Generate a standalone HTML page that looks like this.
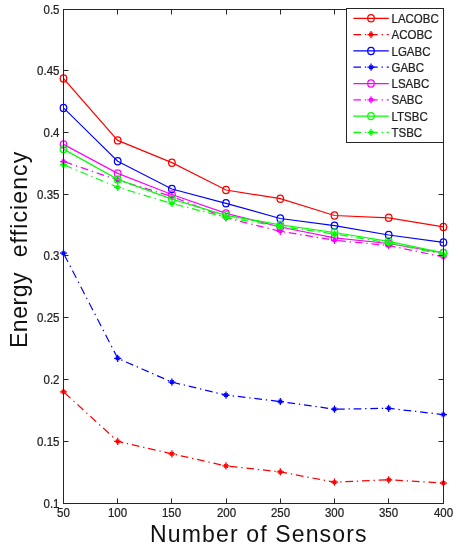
<!DOCTYPE html><html><head><meta charset="utf-8"><style>html,body{margin:0;padding:0;background:#fff;overflow:hidden;}svg{display:block;}text{font-family:"Liberation Sans",Arial,sans-serif;}</style></head><body>
<svg width="458" height="550" viewBox="0 0 458 550">
<rect width="458" height="550" fill="#fff"/>
<polyline transform="scale(0.9,1)" points="70.556,78.50 130.778,140.40 191.000,162.70 251.111,190.00 311.444,198.70 371.667,215.50 431.889,217.80 492.667,226.90" fill="none" stroke="#ff0000" stroke-width="1.25"/>
<ellipse cx="63.50" cy="78.50" rx="3.3" ry="3.6" fill="none" stroke="#ff0000" stroke-width="1.25"/>
<ellipse cx="117.70" cy="140.40" rx="3.3" ry="3.6" fill="none" stroke="#ff0000" stroke-width="1.25"/>
<ellipse cx="171.90" cy="162.70" rx="3.3" ry="3.6" fill="none" stroke="#ff0000" stroke-width="1.25"/>
<ellipse cx="226.00" cy="190.00" rx="3.3" ry="3.6" fill="none" stroke="#ff0000" stroke-width="1.25"/>
<ellipse cx="280.30" cy="198.70" rx="3.3" ry="3.6" fill="none" stroke="#ff0000" stroke-width="1.25"/>
<ellipse cx="334.50" cy="215.50" rx="3.3" ry="3.6" fill="none" stroke="#ff0000" stroke-width="1.25"/>
<ellipse cx="388.70" cy="217.80" rx="3.3" ry="3.6" fill="none" stroke="#ff0000" stroke-width="1.25"/>
<ellipse cx="443.40" cy="226.90" rx="3.3" ry="3.6" fill="none" stroke="#ff0000" stroke-width="1.25"/>
<polyline transform="scale(0.9,1)" points="70.556,391.80 130.778,441.40 191.000,453.80 251.111,465.90 311.444,471.90 371.667,482.20 431.889,479.80 492.667,483.00" fill="none" stroke="#ff0000" stroke-width="1.25" stroke-dasharray="8.5,4.25,1.5,4.25" stroke-dashoffset="-1.6"/>
<path d="M59.90 391.80H67.10M63.50 388.20V395.40M61.70 390.00L65.30 393.60M61.70 393.60L65.30 390.00" stroke="#ff0000" stroke-width="1.25" fill="none"/>
<path d="M114.10 441.40H121.30M117.70 437.80V445.00M115.90 439.60L119.50 443.20M115.90 443.20L119.50 439.60" stroke="#ff0000" stroke-width="1.25" fill="none"/>
<path d="M168.30 453.80H175.50M171.90 450.20V457.40M170.10 452.00L173.70 455.60M170.10 455.60L173.70 452.00" stroke="#ff0000" stroke-width="1.25" fill="none"/>
<path d="M222.40 465.90H229.60M226.00 462.30V469.50M224.20 464.10L227.80 467.70M224.20 467.70L227.80 464.10" stroke="#ff0000" stroke-width="1.25" fill="none"/>
<path d="M276.70 471.90H283.90M280.30 468.30V475.50M278.50 470.10L282.10 473.70M278.50 473.70L282.10 470.10" stroke="#ff0000" stroke-width="1.25" fill="none"/>
<path d="M330.90 482.20H338.10M334.50 478.60V485.80M332.70 480.40L336.30 484.00M332.70 484.00L336.30 480.40" stroke="#ff0000" stroke-width="1.25" fill="none"/>
<path d="M385.10 479.80H392.30M388.70 476.20V483.40M386.90 478.00L390.50 481.60M386.90 481.60L390.50 478.00" stroke="#ff0000" stroke-width="1.25" fill="none"/>
<path d="M439.80 483.00H447.00M443.40 479.40V486.60M441.60 481.20L445.20 484.80M441.60 484.80L445.20 481.20" stroke="#ff0000" stroke-width="1.25" fill="none"/>
<polyline transform="scale(0.9,1)" points="70.556,107.90 130.778,161.30 191.000,189.00 251.111,203.30 311.444,218.50 371.667,225.60 431.889,235.00 492.667,242.40" fill="none" stroke="#0000ff" stroke-width="1.25"/>
<ellipse cx="63.50" cy="107.90" rx="3.3" ry="3.6" fill="none" stroke="#0000ff" stroke-width="1.25"/>
<ellipse cx="117.70" cy="161.30" rx="3.3" ry="3.6" fill="none" stroke="#0000ff" stroke-width="1.25"/>
<ellipse cx="171.90" cy="189.00" rx="3.3" ry="3.6" fill="none" stroke="#0000ff" stroke-width="1.25"/>
<ellipse cx="226.00" cy="203.30" rx="3.3" ry="3.6" fill="none" stroke="#0000ff" stroke-width="1.25"/>
<ellipse cx="280.30" cy="218.50" rx="3.3" ry="3.6" fill="none" stroke="#0000ff" stroke-width="1.25"/>
<ellipse cx="334.50" cy="225.60" rx="3.3" ry="3.6" fill="none" stroke="#0000ff" stroke-width="1.25"/>
<ellipse cx="388.70" cy="235.00" rx="3.3" ry="3.6" fill="none" stroke="#0000ff" stroke-width="1.25"/>
<ellipse cx="443.40" cy="242.40" rx="3.3" ry="3.6" fill="none" stroke="#0000ff" stroke-width="1.25"/>
<polyline transform="scale(0.9,1)" points="70.556,253.20 130.778,358.30 191.000,382.10 251.111,395.10 311.444,401.50 371.667,409.20 431.889,408.30 492.667,414.60" fill="none" stroke="#0000ff" stroke-width="1.25" stroke-dasharray="8.5,4.25,1.5,4.25" stroke-dashoffset="-1.6"/>
<path d="M59.90 253.20H67.10M63.50 249.60V256.80M61.70 251.40L65.30 255.00M61.70 255.00L65.30 251.40" stroke="#0000ff" stroke-width="1.25" fill="none"/>
<path d="M114.10 358.30H121.30M117.70 354.70V361.90M115.90 356.50L119.50 360.10M115.90 360.10L119.50 356.50" stroke="#0000ff" stroke-width="1.25" fill="none"/>
<path d="M168.30 382.10H175.50M171.90 378.50V385.70M170.10 380.30L173.70 383.90M170.10 383.90L173.70 380.30" stroke="#0000ff" stroke-width="1.25" fill="none"/>
<path d="M222.40 395.10H229.60M226.00 391.50V398.70M224.20 393.30L227.80 396.90M224.20 396.90L227.80 393.30" stroke="#0000ff" stroke-width="1.25" fill="none"/>
<path d="M276.70 401.50H283.90M280.30 397.90V405.10M278.50 399.70L282.10 403.30M278.50 403.30L282.10 399.70" stroke="#0000ff" stroke-width="1.25" fill="none"/>
<path d="M330.90 409.20H338.10M334.50 405.60V412.80M332.70 407.40L336.30 411.00M332.70 411.00L336.30 407.40" stroke="#0000ff" stroke-width="1.25" fill="none"/>
<path d="M385.10 408.30H392.30M388.70 404.70V411.90M386.90 406.50L390.50 410.10M386.90 410.10L390.50 406.50" stroke="#0000ff" stroke-width="1.25" fill="none"/>
<path d="M439.80 414.60H447.00M443.40 411.00V418.20M441.60 412.80L445.20 416.40M441.60 416.40L445.20 412.80" stroke="#0000ff" stroke-width="1.25" fill="none"/>
<polyline transform="scale(0.9,1)" points="70.556,144.40 130.778,173.40 191.000,194.50 251.111,213.40 311.444,227.00 371.667,237.80 431.889,243.50 492.667,253.00" fill="none" stroke="#ff00ff" stroke-width="1.25"/>
<ellipse cx="63.50" cy="144.40" rx="3.3" ry="3.6" fill="none" stroke="#ff00ff" stroke-width="1.25"/>
<ellipse cx="117.70" cy="173.40" rx="3.3" ry="3.6" fill="none" stroke="#ff00ff" stroke-width="1.25"/>
<ellipse cx="171.90" cy="194.50" rx="3.3" ry="3.6" fill="none" stroke="#ff00ff" stroke-width="1.25"/>
<ellipse cx="226.00" cy="213.40" rx="3.3" ry="3.6" fill="none" stroke="#ff00ff" stroke-width="1.25"/>
<ellipse cx="280.30" cy="227.00" rx="3.3" ry="3.6" fill="none" stroke="#ff00ff" stroke-width="1.25"/>
<ellipse cx="334.50" cy="237.80" rx="3.3" ry="3.6" fill="none" stroke="#ff00ff" stroke-width="1.25"/>
<ellipse cx="388.70" cy="243.50" rx="3.3" ry="3.6" fill="none" stroke="#ff00ff" stroke-width="1.25"/>
<ellipse cx="443.40" cy="253.00" rx="3.3" ry="3.6" fill="none" stroke="#ff00ff" stroke-width="1.25"/>
<polyline transform="scale(0.9,1)" points="70.556,161.50 130.778,180.00 191.000,196.50 251.111,217.80 311.444,231.30 371.667,240.30 431.889,245.50 492.667,256.90" fill="none" stroke="#ff00ff" stroke-width="1.25" stroke-dasharray="8.5,4.25,1.5,4.25" stroke-dashoffset="-1.6"/>
<path d="M59.90 161.50H67.10M63.50 157.90V165.10M61.70 159.70L65.30 163.30M61.70 163.30L65.30 159.70" stroke="#ff00ff" stroke-width="1.25" fill="none"/>
<path d="M114.10 180.00H121.30M117.70 176.40V183.60M115.90 178.20L119.50 181.80M115.90 181.80L119.50 178.20" stroke="#ff00ff" stroke-width="1.25" fill="none"/>
<path d="M168.30 196.50H175.50M171.90 192.90V200.10M170.10 194.70L173.70 198.30M170.10 198.30L173.70 194.70" stroke="#ff00ff" stroke-width="1.25" fill="none"/>
<path d="M222.40 217.80H229.60M226.00 214.20V221.40M224.20 216.00L227.80 219.60M224.20 219.60L227.80 216.00" stroke="#ff00ff" stroke-width="1.25" fill="none"/>
<path d="M276.70 231.30H283.90M280.30 227.70V234.90M278.50 229.50L282.10 233.10M278.50 233.10L282.10 229.50" stroke="#ff00ff" stroke-width="1.25" fill="none"/>
<path d="M330.90 240.30H338.10M334.50 236.70V243.90M332.70 238.50L336.30 242.10M332.70 242.10L336.30 238.50" stroke="#ff00ff" stroke-width="1.25" fill="none"/>
<path d="M385.10 245.50H392.30M388.70 241.90V249.10M386.90 243.70L390.50 247.30M386.90 247.30L390.50 243.70" stroke="#ff00ff" stroke-width="1.25" fill="none"/>
<path d="M439.80 256.90H447.00M443.40 253.30V260.50M441.60 255.10L445.20 258.70M441.60 258.70L445.20 255.10" stroke="#ff00ff" stroke-width="1.25" fill="none"/>
<polyline transform="scale(0.9,1)" points="70.556,149.10 130.778,179.40 191.000,199.20 251.111,215.30 311.444,224.80 371.667,232.50 431.889,241.30 492.667,252.90" fill="none" stroke="#00ff00" stroke-width="1.25"/>
<ellipse cx="63.50" cy="149.10" rx="3.3" ry="3.6" fill="none" stroke="#00ff00" stroke-width="1.25"/>
<ellipse cx="117.70" cy="179.40" rx="3.3" ry="3.6" fill="none" stroke="#00ff00" stroke-width="1.25"/>
<ellipse cx="171.90" cy="199.20" rx="3.3" ry="3.6" fill="none" stroke="#00ff00" stroke-width="1.25"/>
<ellipse cx="226.00" cy="215.30" rx="3.3" ry="3.6" fill="none" stroke="#00ff00" stroke-width="1.25"/>
<ellipse cx="280.30" cy="224.80" rx="3.3" ry="3.6" fill="none" stroke="#00ff00" stroke-width="1.25"/>
<ellipse cx="334.50" cy="232.50" rx="3.3" ry="3.6" fill="none" stroke="#00ff00" stroke-width="1.25"/>
<ellipse cx="388.70" cy="241.30" rx="3.3" ry="3.6" fill="none" stroke="#00ff00" stroke-width="1.25"/>
<ellipse cx="443.40" cy="252.90" rx="3.3" ry="3.6" fill="none" stroke="#00ff00" stroke-width="1.25"/>
<polyline transform="scale(0.9,1)" points="70.556,164.70 130.778,187.30 191.000,203.50 251.111,217.30 311.444,226.50 371.667,234.00 431.889,243.00 492.667,254.60" fill="none" stroke="#00ff00" stroke-width="1.25" stroke-dasharray="8.5,4.25,1.5,4.25" stroke-dashoffset="-1.6"/>
<path d="M59.90 164.70H67.10M63.50 161.10V168.30M61.70 162.90L65.30 166.50M61.70 166.50L65.30 162.90" stroke="#00ff00" stroke-width="1.25" fill="none"/>
<path d="M114.10 187.30H121.30M117.70 183.70V190.90M115.90 185.50L119.50 189.10M115.90 189.10L119.50 185.50" stroke="#00ff00" stroke-width="1.25" fill="none"/>
<path d="M168.30 203.50H175.50M171.90 199.90V207.10M170.10 201.70L173.70 205.30M170.10 205.30L173.70 201.70" stroke="#00ff00" stroke-width="1.25" fill="none"/>
<path d="M222.40 217.30H229.60M226.00 213.70V220.90M224.20 215.50L227.80 219.10M224.20 219.10L227.80 215.50" stroke="#00ff00" stroke-width="1.25" fill="none"/>
<path d="M276.70 226.50H283.90M280.30 222.90V230.10M278.50 224.70L282.10 228.30M278.50 228.30L282.10 224.70" stroke="#00ff00" stroke-width="1.25" fill="none"/>
<path d="M330.90 234.00H338.10M334.50 230.40V237.60M332.70 232.20L336.30 235.80M332.70 235.80L336.30 232.20" stroke="#00ff00" stroke-width="1.25" fill="none"/>
<path d="M385.10 243.00H392.30M388.70 239.40V246.60M386.90 241.20L390.50 244.80M386.90 244.80L390.50 241.20" stroke="#00ff00" stroke-width="1.25" fill="none"/>
<path d="M439.80 254.60H447.00M443.40 251.00V258.20M441.60 252.80L445.20 256.40M441.60 256.40L445.20 252.80" stroke="#00ff00" stroke-width="1.25" fill="none"/>
<rect x="63.5" y="9.5" width="380.0" height="494.0" fill="none" stroke="#262626" stroke-width="1"/>
<path d="M63.50 503.5V498.5M63.50 9.5V14.5M117.50 503.5V498.5M117.50 9.5V14.5M171.50 503.5V498.5M171.50 9.5V14.5M226.50 503.5V498.5M226.50 9.5V14.5M280.50 503.5V498.5M280.50 9.5V14.5M334.50 503.5V498.5M334.50 9.5V14.5M388.50 503.5V498.5M388.50 9.5V14.5M443.50 503.5V498.5M443.50 9.5V14.5M63.5 9.50H68.5M443.5 9.50H438.5M63.5 70.50H68.5M443.5 70.50H438.5M63.5 132.50H68.5M443.5 132.50H438.5M63.5 194.50H68.5M443.5 194.50H438.5M63.5 255.50H68.5M443.5 255.50H438.5M63.5 317.50H68.5M443.5 317.50H438.5M63.5 379.50H68.5M443.5 379.50H438.5M63.5 441.50H68.5M443.5 441.50H438.5M63.5 503.50H68.5M443.5 503.50H438.5" stroke="#262626" stroke-width="1" fill="none"/>
<text transform="translate(59.5,14.10) scale(0.885,1)" font-size="13" text-anchor="end" fill="#222" stroke="#222" stroke-width="0.25">0.5</text>
<text transform="translate(59.5,75.10) scale(0.885,1)" font-size="13" text-anchor="end" fill="#222" stroke="#222" stroke-width="0.25">0.45</text>
<text transform="translate(59.5,137.10) scale(0.885,1)" font-size="13" text-anchor="end" fill="#222" stroke="#222" stroke-width="0.25">0.4</text>
<text transform="translate(59.5,199.10) scale(0.885,1)" font-size="13" text-anchor="end" fill="#222" stroke="#222" stroke-width="0.25">0.35</text>
<text transform="translate(59.5,260.10) scale(0.885,1)" font-size="13" text-anchor="end" fill="#222" stroke="#222" stroke-width="0.25">0.3</text>
<text transform="translate(59.5,322.10) scale(0.885,1)" font-size="13" text-anchor="end" fill="#222" stroke="#222" stroke-width="0.25">0.25</text>
<text transform="translate(59.5,384.10) scale(0.885,1)" font-size="13" text-anchor="end" fill="#222" stroke="#222" stroke-width="0.25">0.2</text>
<text transform="translate(59.5,446.10) scale(0.885,1)" font-size="13" text-anchor="end" fill="#222" stroke="#222" stroke-width="0.25">0.15</text>
<text transform="translate(59.5,508.10) scale(0.885,1)" font-size="13" text-anchor="end" fill="#222" stroke="#222" stroke-width="0.25">0.1</text>
<text transform="translate(63.50,516.5) scale(0.885,1)" font-size="13" text-anchor="middle" fill="#222" stroke="#222" stroke-width="0.25">50</text>
<text transform="translate(117.50,516.5) scale(0.885,1)" font-size="13" text-anchor="middle" fill="#222" stroke="#222" stroke-width="0.25">100</text>
<text transform="translate(171.50,516.5) scale(0.885,1)" font-size="13" text-anchor="middle" fill="#222" stroke="#222" stroke-width="0.25">150</text>
<text transform="translate(226.50,516.5) scale(0.885,1)" font-size="13" text-anchor="middle" fill="#222" stroke="#222" stroke-width="0.25">200</text>
<text transform="translate(280.50,516.5) scale(0.885,1)" font-size="13" text-anchor="middle" fill="#222" stroke="#222" stroke-width="0.25">250</text>
<text transform="translate(334.50,516.5) scale(0.885,1)" font-size="13" text-anchor="middle" fill="#222" stroke="#222" stroke-width="0.25">300</text>
<text transform="translate(388.50,516.5) scale(0.885,1)" font-size="13" text-anchor="middle" fill="#222" stroke="#222" stroke-width="0.25">350</text>
<text transform="translate(443.50,516.5) scale(0.885,1)" font-size="13" text-anchor="middle" fill="#222" stroke="#222" stroke-width="0.25">400</text>
<text transform="translate(150,541.5) scale(0.96,1)" font-size="24" textLength="225.52" lengthAdjust="spacing" fill="#111">Number of Sensors</text>
<text transform="translate(27,348) rotate(-90) scale(0.96,1)" font-size="24" textLength="78.65" lengthAdjust="spacing" fill="#111">Energy</text>
<text transform="translate(27,257.3) rotate(-90) scale(0.96,1)" font-size="24" textLength="109.90" lengthAdjust="spacing" fill="#111">efficiency</text>
<rect x="346.5" y="8.5" width="97.0" height="134.0" fill="#fff" stroke="#262626" stroke-width="1"/>
<line transform="scale(0.9,1)" x1="392.667" y1="18.30" x2="432.000" y2="18.30" stroke="#ff0000" stroke-width="1.25"/>
<ellipse cx="371.00" cy="18.30" rx="3.3" ry="3.6" fill="none" stroke="#ff0000" stroke-width="1.25"/>
<text transform="translate(391.5,22.90) scale(0.885,1)" font-size="13" fill="#222" stroke="#222" stroke-width="0.25">LACOBC</text>
<line transform="scale(0.9,1)" x1="392.667" y1="34.60" x2="432.000" y2="34.60" stroke="#ff0000" stroke-width="1.25" stroke-dasharray="8.5,4.25,1.5,4.25"/>
<path d="M367.40 34.60H374.60M371.00 31.00V38.20M369.20 32.80L372.80 36.40M369.20 36.40L372.80 32.80" stroke="#ff0000" stroke-width="1.25" fill="none"/>
<text transform="translate(391.5,39.20) scale(0.885,1)" font-size="13" fill="#222" stroke="#222" stroke-width="0.25">ACOBC</text>
<line transform="scale(0.9,1)" x1="392.667" y1="50.90" x2="432.000" y2="50.90" stroke="#0000ff" stroke-width="1.25"/>
<ellipse cx="371.00" cy="50.90" rx="3.3" ry="3.6" fill="none" stroke="#0000ff" stroke-width="1.25"/>
<text transform="translate(391.5,55.50) scale(0.885,1)" font-size="13" fill="#222" stroke="#222" stroke-width="0.25">LGABC</text>
<line transform="scale(0.9,1)" x1="392.667" y1="67.20" x2="432.000" y2="67.20" stroke="#0000ff" stroke-width="1.25" stroke-dasharray="8.5,4.25,1.5,4.25"/>
<path d="M367.40 67.20H374.60M371.00 63.60V70.80M369.20 65.40L372.80 69.00M369.20 69.00L372.80 65.40" stroke="#0000ff" stroke-width="1.25" fill="none"/>
<text transform="translate(391.5,71.80) scale(0.885,1)" font-size="13" fill="#222" stroke="#222" stroke-width="0.25">GABC</text>
<line transform="scale(0.9,1)" x1="392.667" y1="83.50" x2="432.000" y2="83.50" stroke="#ff00ff" stroke-width="1.25"/>
<ellipse cx="371.00" cy="83.50" rx="3.3" ry="3.6" fill="none" stroke="#ff00ff" stroke-width="1.25"/>
<text transform="translate(391.5,88.10) scale(0.885,1)" font-size="13" fill="#222" stroke="#222" stroke-width="0.25">LSABC</text>
<line transform="scale(0.9,1)" x1="392.667" y1="99.80" x2="432.000" y2="99.80" stroke="#ff00ff" stroke-width="1.25" stroke-dasharray="8.5,4.25,1.5,4.25"/>
<path d="M367.40 99.80H374.60M371.00 96.20V103.40M369.20 98.00L372.80 101.60M369.20 101.60L372.80 98.00" stroke="#ff00ff" stroke-width="1.25" fill="none"/>
<text transform="translate(391.5,104.40) scale(0.885,1)" font-size="13" fill="#222" stroke="#222" stroke-width="0.25">SABC</text>
<line transform="scale(0.9,1)" x1="392.667" y1="116.10" x2="432.000" y2="116.10" stroke="#00ff00" stroke-width="1.25"/>
<ellipse cx="371.00" cy="116.10" rx="3.3" ry="3.6" fill="none" stroke="#00ff00" stroke-width="1.25"/>
<text transform="translate(391.5,120.70) scale(0.885,1)" font-size="13" fill="#222" stroke="#222" stroke-width="0.25">LTSBC</text>
<line transform="scale(0.9,1)" x1="392.667" y1="132.40" x2="432.000" y2="132.40" stroke="#00ff00" stroke-width="1.25" stroke-dasharray="8.5,4.25,1.5,4.25"/>
<path d="M367.40 132.40H374.60M371.00 128.80V136.00M369.20 130.60L372.80 134.20M369.20 134.20L372.80 130.60" stroke="#00ff00" stroke-width="1.25" fill="none"/>
<text transform="translate(391.5,137.00) scale(0.885,1)" font-size="13" fill="#222" stroke="#222" stroke-width="0.25">TSBC</text>
</svg></body></html>
